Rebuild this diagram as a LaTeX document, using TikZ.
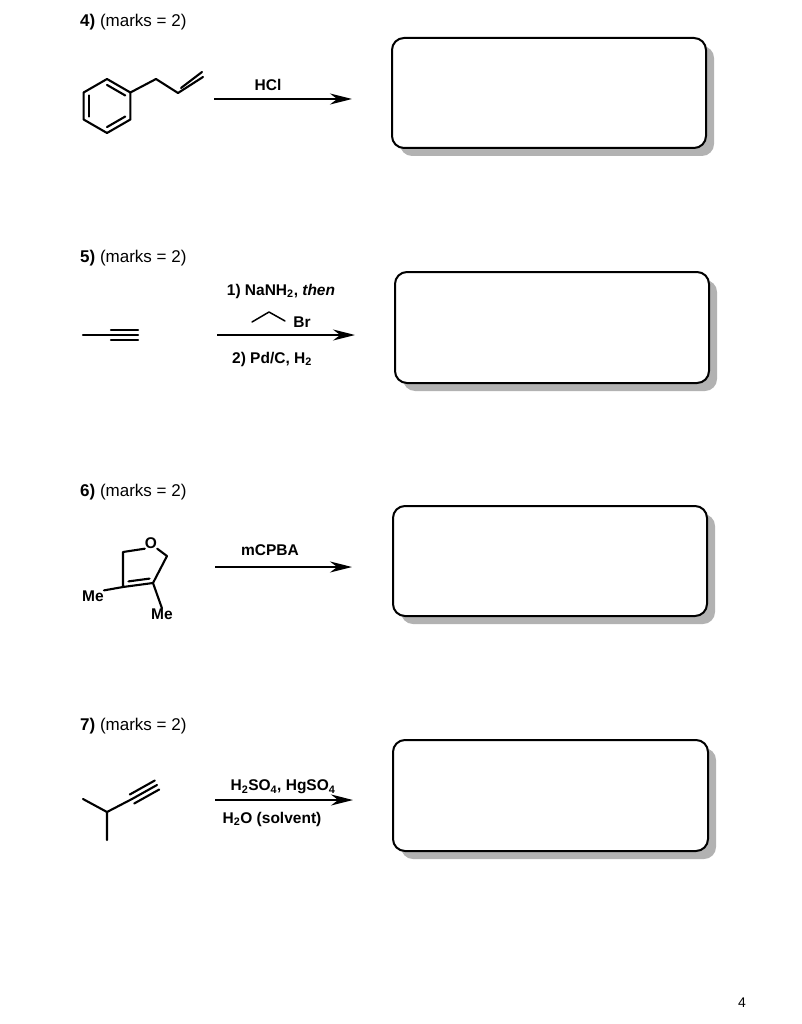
\documentclass[tikz,border=0pt]{standalone}
\usepackage{fontspec}
\setmainfont{Liberation Sans}
\usetikzlibrary{arrows.meta,calc}
\begin{document}
\begin{tikzpicture}[x=1pt,y=-1pt,
  bond/.style={line width=2.1pt,line cap=round,line join=round},
  rxn/.style={line width=1.9pt,-{Stealth[length=22pt,width=11pt]}},
  ansbox/.style={draw,line width=2pt,rounded corners=12pt,fill=white},
  shad/.style={fill=black!30,rounded corners=12pt,draw=none},
  lab/.style={font=\fontsize{15.5}{18}\selectfont\bfseries,inner sep=0pt},
  head/.style={font=\fontsize{17}{20}\selectfont,anchor=west,inner sep=0pt}]
\useasboundingbox (0,0) rectangle (801,1024);
% headers
\node[head] (h4) at (80,22) {\textbf{4)} (marks = 2)};
\node[head] (h5) at (80,258) {\textbf{5)} (marks = 2)};
\node[head] (h6) at (80,492) {\textbf{6)} (marks = 2)};
\node[head] (h7) at (80,726) {\textbf{7)} (marks = 2)};
\node[font=\fontsize{14}{16}\selectfont,inner sep=0pt] (pg) at (742,1003) {4};
% boxes
\foreach \a/\b/\c/\d/\n in {392/38/706/148/b4,395/272/709/383/b5,393/506/707/616/b6,393/740/708/851/b7}{
  \fill[shad] (\a+8,\b+8) rectangle (\c+8,\d+8);
  \draw[ansbox] (\a,\b) rectangle (\c,\d);
}
% molecule 4
\coordinate (cen) at (107,106);
\foreach \i/\ang in {1/-90,2/-30,3/30,4/90,5/150,6/210}{\coordinate (v\i) at ($(cen)+(\ang:27)$);}
\draw[bond] (v1)--(v2)--(v3)--(v4)--(v5)--(v6)--cycle;
\draw[bond] ($(cen)!0.78!(v5)$) -- ($(cen)!0.78!(v6)$);
\draw[bond] ($(cen)!0.78!(v3)$) -- ($(cen)!0.78!(v4)$);
\draw[bond] ($(cen)!0.78!(v1)$) -- ($(cen)!0.78!(v2)$);
\coordinate (c1) at (156,79); \coordinate (c2) at (178,93); \coordinate (c3) at (203,77);
\draw[bond] (v2)--(c1)--(c2)--(c3);
\draw[bond] ($(c2)+(3,-5)$)--($(c3)+(-1,-5)$);
\coordinate (a4s) at (214,99); \coordinate (a4e) at (352,99);
\draw[rxn] (a4s)--(a4e);
\node[lab] (l4) at (268,85) {HCl};
% molecule 5
\coordinate (m1) at (83,335); \coordinate (m3) at (138,335);
\draw[bond] (m1)--(m3);
\draw[bond] (111,330)--(138,330); \draw[bond] (111,340)--(138,340);
\draw[rxn] (217,335)--(355,335);
\node[lab] (l5a) at (281,291) {1) NaNH\textsubscript{2}, \textit{then}};
\draw[bond,line width=1.5pt] (252,322)--(269,312)--(285,321);
\node[lab] (br) at (302,322) {Br};
\node[lab] (l5b) at (272,359) {2) Pd/C, H\textsubscript{2}};
% molecule 6
\node[lab] (O) at (151,543) {O};
\coordinate (p1) at (123,552); \coordinate (p2) at (123,587); \coordinate (p3) at (153,583);
\coordinate (p4) at (167,556);
\draw[bond] (O.south west)--(p1)--(p2)--(p3)--(p4)--(O.south east);
\draw[bond] ($(p2)!0.15!(p3)+(1,-5)$)--($(p2)!0.85!(p3)+(1,-5)$);
\node[lab] (me1) at (93,596) {Me};
\node[lab] (me2) at (162,614) {Me};
\draw[bond] (p2)--(me1.north east);
\draw[bond] (p3)--(me2.north);
\draw[rxn] (215,567)--(352,567);
\node[lab] (l6) at (270,550) {mCPBA};
% molecule 7
\coordinate (q1) at (83,799); \coordinate (q2) at (107,812); \coordinate (q3) at (107,840);
\coordinate (q4) at (132,799); \coordinate (q5) at (157,785);
\draw[bond] (q1)--(q2)--(q3); \draw[bond] (q2)--(q4)--(q5);
\draw[bond] ($(q4)+(-2.2,-4.5)$)--($(q5)+(-2.2,-4.5)$);
\draw[bond] ($(q4)+(2.2,4.5)$)--($(q5)+(2.2,4.5)$);
\draw[rxn] (215,800)--(353,800);
\node[lab] (l7a) at (283,787) {H\textsubscript{2}SO\textsubscript{4}, HgSO\textsubscript{4}};
\node[lab] (l7b) at (272,819) {H\textsubscript{2}O (solvent)};
\end{tikzpicture}
\end{document}
